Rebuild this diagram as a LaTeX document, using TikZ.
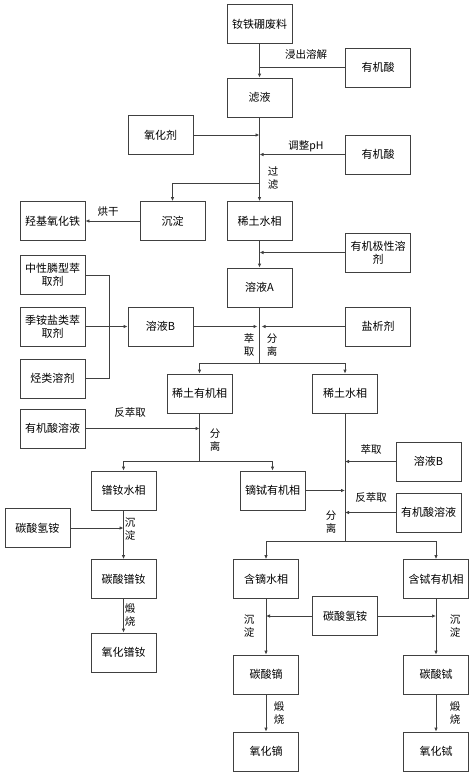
\documentclass[tikz,border=0pt]{standalone}
\usepackage{fontspec}
\setmainfont{Noto Sans CJK SC}
\usetikzlibrary{arrows.meta}
\begin{document}
\begin{tikzpicture}[x=1pt,y=-1pt,
  box/.style={draw=black!75, line width=0.8pt, minimum width=65pt, minimum height=39pt, inner sep=1pt, align=center, font=\fontsize{11pt}{13pt}\selectfont},
  lab/.style={inner sep=0pt, align=center, font=\fontsize{10.5pt}{13pt}\selectfont},
  ln/.style={draw=black!75, line width=0.8pt},
  ar/.style={ln, -{Latex[length=4pt,width=3.5pt]}}]
\useasboundingbox (0,0) rectangle (474,776);
% boxes
\node[box] (waste) at (259.5,24) {钕铁硼废料};
\node[box] (acid1) at (378,67.5) {有机酸};
\node[box] (filt) at (259.5,97.5) {滤液};
\node[box] (oxid) at (160.5,135) {氧化剂};
\node[box] (acid2) at (378,154.5) {有机酸};
\node[box] (ppt) at (172.5,221) {沉淀};
\node[box] (reaq1) at (259.5,221) {稀土水相};
\node[box] (feooh) at (52.5,221) {羟基氧化铁};
\node[box] (polar) at (378,252.5) {有机极性溶\\剂};
\node[box] (solA) at (259.5,287.5) {溶液A};
\node[box] (neutral) at (52.5,275) {中性膦型萃\\取剂};
\node[box] (quat) at (52.5,326.5) {季铵盐类萃\\取剂};
\node[box] (hydro) at (52.5,378.5) {烃类溶剂};
\node[box] (solB) at (160.5,326.5) {溶液B};
\node[box] (salt) at (378,326.5) {盐析剂};
\node[box] (reorg) at (199.5,393.5) {稀土有机相};
\node[box] (reaq2) at (345,393.5) {稀土水相};
\node[box] (acidsol1) at (52.5,428.5) {有机酸溶液};
\node[box] (prndaq) at (123.5,490.5) {镨钕水相};
\node[box] (dytborg) at (272.5,490.5) {镝铽有机相};
\node[box] (solB2) at (428.5,461.5) {溶液B};
\node[box] (acidsol2) at (428.5,512.5) {有机酸溶液};
\node[box] (nhA) at (37.5,528) {碳酸氢铵};
\node[box] (prndco) at (123.5,579) {碳酸镨钕};
\node[box] (prndox) at (123.5,652.5) {氧化镨钕};
\node[box] (dyaq) at (266,579) {含镝水相};
\node[box] (tborg) at (436,579) {含铽有机相};
\node[box] (nhB) at (345,616) {碳酸氢铵};
\node[box] (dyco) at (266,674.5) {碳酸镝};
\node[box] (tbco) at (436,674.5) {碳酸铽};
\node[box] (dyox) at (266,751.5) {氧化镝};
\node[box] (tbox) at (436,751.5) {氧化铽};
% junction coordinates
\coordinate (j1) at (259.5,67.5);
\coordinate (j2) at (259.5,135);
\coordinate (j3) at (259.5,154.5);
\coordinate (j4) at (259.5,183);
\coordinate (j4l) at (172.5,183);
\coordinate (j5) at (259.5,252.5);
\coordinate (bx) at (109,326.5);
\coordinate (bt) at (109,275);
\coordinate (bb) at (109,378.5);
\coordinate (j6) at (259.5,326.5);
\coordinate (j7) at (259.5,363);
\coordinate (j7l) at (199.5,363);
\coordinate (j7r) at (345,363);
\coordinate (j8) at (199.5,428.5);
\coordinate (j9) at (199.5,461);
\coordinate (j9l) at (123.5,461);
\coordinate (j9r) at (272.5,461);
\coordinate (k1) at (345,461.5);
\coordinate (k2) at (345,490.5);
\coordinate (k3) at (345,512.5);
\coordinate (k4) at (345,541);
\coordinate (k4l) at (266,541);
\coordinate (k4r) at (436,541);
\coordinate (m1) at (123.5,528);
\coordinate (m2) at (266,616);
\coordinate (m3) at (436,616);
% connectors
\draw[ar] (waste) -- (filt);
\draw[ln] (acid1.west) -- (j1);
\draw[ar] (filt) -- (reaq1);
\draw[ar] (oxid.east) -- (j2);
\draw[ar] (acid2.west) -- (j3);
\draw[ln] (j4) -- (j4l);
\draw[ar] (j4l) -- (ppt.north);
\draw[ar] (ppt.west) -- (feooh.east);
\draw[ar] (reaq1) -- (solA);
\draw[ar] (polar.west) -- (j5);
\draw[ln] (neutral.east |- bt) -- (bt) -- (bb) -- (hydro.east);
\draw[ar] (quat.east) -- (solB.west);
\draw[ar] (solB.east) -- ([xshift=-2pt]j6);
\draw[ar] (salt.west) -- ([xshift=2pt]j6);
\draw[ln] (solA.south) -- (j7);
\draw[ln] (j7l) -- (j7r);
\draw[ar] (j7l) -- (reorg.north);
\draw[ar] (j7r) -- (reaq2.north);
\draw[ar] (acidsol1.east) -- (j8);
\draw[ln] (reorg.south) -- (j9);
\draw[ln] (j9l) -- (j9r);
\draw[ar] (j9l) -- (prndaq.north);
\draw[ar] (j9r) -- (dytborg.north);
\draw[ln] (reaq2.south) -- (k4);
\draw[ar] (solB2.west) -- (k1);
\draw[ar] (dytborg.east) -- (k2);
\draw[ar] (acidsol2.west) -- (k3);
\draw[ln] (k4l) -- (k4r);
\draw[ar] (k4l) -- (dyaq.north);
\draw[ar] (k4r) -- (tborg.north);
\draw[ar] (prndaq) -- (prndco);
\draw[ar] (nhA.east) -- (m1);
\draw[ar] (prndco) -- (prndox);
\draw[ar] (dyaq) -- (dyco);
\draw[ar] (nhB.west) -- (m2);
\draw[ar] (nhB.east) -- (m3);
\draw[ar] (tborg) -- (tbco);
\draw[ar] (dyco) -- (dyox);
\draw[ar] (tbco) -- (tbox);
% labels
\node[lab] (l1) at (306,54) {浸出溶解};
\node[lab] (l2) at (306,146) {调整pH};
\node[lab] (l3) at (273,178) {过\\滤};
\node[lab] (l4) at (108,212) {烘干};
\node[lab] (l5) at (249,345) {萃\\取};
\node[lab] (l6) at (272,345) {分\\离};
\node[lab] (l7) at (130,413) {反萃取};
\node[lab] (l8) at (215,440) {分\\离};
\node[lab] (l9) at (371,450) {萃取};
\node[lab] (l10) at (371,498) {反萃取};
\node[lab] (l11) at (331,522.5) {分\\离};
\node[lab] (l12) at (130,529) {沉\\淀};
\node[lab] (l13) at (130,615) {煅\\烧};
\node[lab] (l14) at (249,626) {沉\\淀};
\node[lab] (l15) at (455,626) {沉\\淀};
\node[lab] (l16) at (279,713) {煅\\烧};
\node[lab] (l17) at (455,713) {煅\\烧};
\end{tikzpicture}
\end{document}
